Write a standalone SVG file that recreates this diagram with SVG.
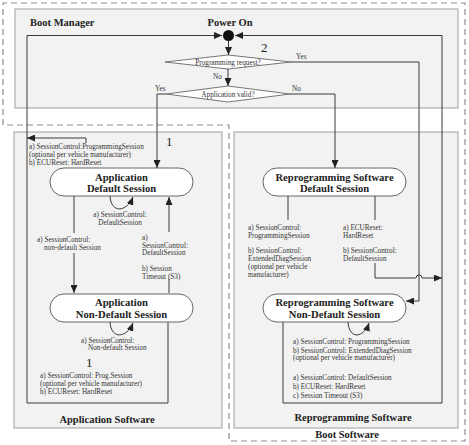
<svg xmlns="http://www.w3.org/2000/svg" width="469" height="445" viewBox="0 0 469 445">
<style>
.bg{fill:#ffffff}
.cont{fill:#f2f2f2;stroke:#a0a0a0;stroke-width:1}
.dash{fill:none;stroke:#8c8c8c;stroke-width:1.2;stroke-dasharray:6,4}
.sess{fill:#ffffff;stroke:#666666;stroke-width:1}
.dia{fill:#ffffff;stroke:#666666;stroke-width:0.9}
.c{fill:none;stroke:#3a3a3a;stroke-width:1}
.ca{fill:none;stroke:#3a3a3a;stroke-width:1;marker-end:url(#ah)}
.t{font-family:"Liberation Serif",serif;font-size:7.2px;fill:#333333}
.tm{font-family:"Liberation Serif",serif;font-size:7.2px;fill:#333333;text-anchor:middle}
.h{font-family:"Liberation Serif",serif;font-size:10.6px;font-weight:bold;fill:#222222;text-anchor:middle}
.hs{font-family:"Liberation Serif",serif;font-size:10.5px;font-weight:bold;fill:#222222}
.n{font-family:"Liberation Serif",serif;font-size:13px;fill:#222222}
</style>
<defs>
<marker id="ah" markerUnits="userSpaceOnUse" markerWidth="8" markerHeight="7" refX="8" refY="3.5" orient="auto">
<path d="M0,0 L8,3.5 L0,7 z" fill="#222222"/>
</marker>
</defs>
<rect class="bg" x="0" y="0" width="469" height="445"/>

<g id="boot-software">
<path class="dash" d="M3,125 V3 H465 V441 H229 V125 Z"/>
<text class="hs" x="347" y="438" text-anchor="middle">Boot Software</text>
</g>

<g id="boot-manager">
<rect class="cont" x="15" y="9" width="443" height="99"/>
<text class="hs" x="30" y="25.5">Boot Manager</text>
</g>

<g id="application-software">
<rect class="cont" x="14" y="132" width="208" height="296"/>
<text class="hs" x="107" y="422.5" text-anchor="middle">Application Software</text>
</g>

<g id="reprogramming-software">
<rect class="cont" x="234" y="132" width="224" height="296"/>
<text class="hs" x="353" y="420.5" text-anchor="middle">Reprogramming Software</text>
</g>

<g id="power-on">
<circle cx="228.5" cy="35.5" r="5.5" fill="#111111"/>
<text class="hs" x="230" y="25.5" text-anchor="middle">Power On</text>
<text class="n" x="261" y="52">2</text>
</g>

<g id="programming-request">
<polygon class="dia" points="165,62 228,55 291,62 228,69"/>
<text class="tm" x="228" y="64.5">Programming request?</text>
</g>

<g id="application-valid">
<polygon class="dia" points="166,94 228,86 290,94 228,102"/>
<text class="tm" x="228" y="96.5">Application valid?</text>
</g>

<g id="application-default-session">
<rect class="sess" x="50" y="168" width="143" height="28" rx="14"/>
<text class="h" x="121.5" y="180.5">Application</text>
<text class="h" x="121.5" y="192">Default Session</text>
</g>

<g id="application-non-default-session">
<rect class="sess" x="50" y="294" width="143" height="28" rx="14"/>
<text class="h" x="121.5" y="306">Application</text>
<text class="h" x="121.5" y="317.5">Non-Default Session</text>
</g>

<g id="reprogramming-default-session">
<rect class="sess" x="263" y="168" width="143" height="28" rx="14"/>
<text class="h" x="334.5" y="180.5">Reprogramming Software</text>
<text class="h" x="334.5" y="192">Default Session</text>
</g>

<g id="reprogramming-non-default-session">
<rect class="sess" x="263" y="294" width="143" height="28" rx="14"/>
<text class="h" x="334.5" y="306">Reprogramming Software</text>
<text class="h" x="334.5" y="317.5">Non-Default Session</text>
</g>

<g id="connectors">
<path class="ca" d="M168,322 V403 H27 V35.5 H222"/>
<path class="ca" d="M283,322 V403 H442 V35.5 H235"/>
<path class="ca" d="M228.5,41 V55"/>
<path class="ca" d="M228,69 V86"/>
<path class="ca" d="M291,62 H419 V301 H406"/>
<path class="ca" d="M166,94 H157 V168"/>
<path class="ca" d="M290,94 H335 V168"/>
<path class="ca" d="M86,143 V138 H27"/>
<path class="ca" d="M110,196 C111,214 127,212 133,197"/>
<path class="ca" d="M74,196 V233 M74,253 V293"/>
<path class="ca" d="M169,293 V279 M169,232 V197"/>
<path class="ca" d="M110,322 C111,340 127,338 133,323"/>
<path class="c" d="M288,196 V220"/>
<path class="ca" d="M375,196 V220 M375,263 V278 H416 A3,3 0 0 1 422,278 H442"/>
<path class="ca" d="M348,322 C349,340 364,338 369,323"/>
</g>

<g id="labels">
<text class="t" x="296" y="58.5">Yes</text>
<text class="t" x="213" y="78.5">No</text>
<text class="t" x="155" y="91">Yes</text>
<text class="t" x="292" y="91">No</text>

<text class="n" x="166" y="146">1</text>
<text class="t" x="29" y="148.5">a) SessionControl:ProgrammingSession</text>
<text class="t" x="29" y="156.8">(optional per vehicle manufacturer)</text>
<text class="t" x="29" y="165.2">b) ECUReset: HardReset</text>

<text class="tm" x="120" y="216.5">a) SessionControl:</text>
<text class="tm" x="120" y="224.8">DefaultSession</text>

<text class="t" x="37" y="241.8">a) SessionControl:</text>
<text class="t" x="44" y="250.2">non-default Session</text>

<text class="t" x="142" y="239.8">a)</text>
<text class="t" x="142" y="247.5">SessionControl:</text>
<text class="t" x="142" y="255.2">DefaultSession</text>
<text class="t" x="142" y="270.8">b) Session</text>
<text class="t" x="142" y="279.2">Timeout (S3)</text>

<text class="t" x="81" y="342.5">a) SessionControl:</text>
<text class="t" x="88" y="350.2">Non-default Session</text>
<text class="n" x="86" y="367">1</text>
<text class="t" x="40" y="377.5">a) SessionControl: Prog.Session</text>
<text class="t" x="40" y="385.8">(optional per vehicle manufacturer)</text>
<text class="t" x="40" y="394.2">b) ECUReset: HardReset</text>

<text class="t" x="248" y="229.8">a) SessionControl:</text>
<text class="t" x="248" y="237.5">ProgrammingSession</text>
<text class="t" x="248" y="252.5">b) SessionControl:</text>
<text class="t" x="248" y="260.8">ExtendedDiagSession</text>
<text class="t" x="248" y="268.5">(optional per vehicle</text>
<text class="t" x="248" y="276.8">manufacturer)</text>

<text class="t" x="343" y="229.8">a) ECUReset:</text>
<text class="t" x="343" y="237.5">HardReset</text>
<text class="t" x="343" y="252.5">b) SessionControl:</text>
<text class="t" x="343" y="260.8">DefaultSession</text>

<text class="t" x="293" y="344.2">a) SessionControl: ProgrammingSession</text>
<text class="t" x="293" y="352.5">b) SessionControl: ExtendedDiagSession</text>
<text class="t" x="293" y="360.2">(optional per vehicle manufacturer)</text>
<text class="t" x="293" y="380.2">a) SessionControl: DefaultSession</text>
<text class="t" x="293" y="389.2">b) ECUReset: HardReset</text>
<text class="t" x="293" y="397.8">c) Session Timeout (S3)</text>
</g>
</svg>
